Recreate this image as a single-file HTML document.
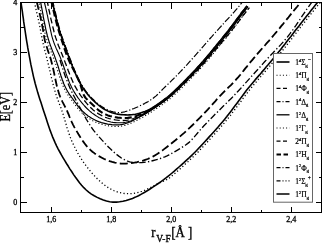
<!DOCTYPE html>
<html><head><meta charset="utf-8"><title>Potential energy curves</title>
<style>html,body{margin:0;padding:0;background:#fff}svg{display:block}</style></head>
<body>
<svg width="322" height="243" viewBox="0 0 322 243">
<defs><clipPath id="c"><rect x="20" y="2" width="302" height="211"/></clipPath></defs>
<rect width="322" height="243" fill="#fff"/>
<g clip-path="url(#c)" fill="none" stroke="#000" stroke-linejoin="round">
<path d="M21.0,2.0 L21.4,5.3 L21.9,8.6 L22.4,11.8 L22.8,15.1 L23.3,18.4 L23.7,21.7 L24.2,25.0 L24.7,28.2 L25.2,31.5 L25.7,34.8 L26.2,38.1 L26.7,41.3 L27.3,44.6 L27.8,47.9 L28.4,51.1 L29.0,54.4 L29.6,57.7 L30.2,60.9 L30.8,64.2 L31.5,67.4 L32.2,70.7 L32.9,73.9 L33.6,77.1 L34.4,80.3 L35.2,83.5 L36.1,86.7 L37.0,89.9 L37.9,93.1 L38.9,96.3 L39.9,99.4 L41.0,102.6 L42.0,105.7 L43.0,108.9 L44.0,112.0 L45.1,115.2 L46.1,118.3 L47.1,121.5 L48.1,124.6 L49.2,127.8 L50.3,130.9 L51.5,134.0 L52.7,137.1 L54.0,140.1 L55.3,143.1 L56.7,146.1 L58.2,149.1 L59.8,152.0 L61.4,154.9 L63.1,157.8 L64.8,160.6 L66.5,163.5 L68.3,166.3 L70.0,169.1 L71.8,171.8 L73.6,174.6 L75.5,177.3 L77.5,180.0 L79.5,182.7 L81.6,185.2 L83.8,187.7 L86.2,190.0 L88.7,192.2 L91.4,194.1 L94.2,195.8 L97.2,197.4 L100.2,198.8 L103.3,200.0 L106.5,201.0 L109.7,201.7 L113.0,202.1 L116.3,202.1 L119.6,201.7 L122.9,201.2 L126.2,200.5 L129.3,199.5 L132.5,198.4 L135.5,197.1 L138.5,195.7 L141.4,194.1 L144.3,192.5 L147.2,190.8 L150.0,189.0 L152.8,187.2 L155.5,185.4 L158.3,183.5 L161.0,181.6 L163.7,179.7 L166.3,177.7 L168.9,175.6 L171.5,173.5 L174.0,171.4 L176.5,169.2 L179.0,167.0 L181.4,164.8 L183.9,162.6 L186.3,160.3 L188.8,158.1 L191.2,155.8 L193.6,153.5 L195.9,151.2 L198.2,148.8 L200.5,146.4 L202.7,144.0 L205.0,141.5 L207.2,139.1 L209.4,136.6 L211.6,134.2 L213.9,131.7 L216.1,129.2 L218.3,126.7 L220.4,124.2 L222.6,121.7 L224.7,119.2 L226.8,116.6 L228.8,114.0 L230.8,111.4 L232.8,108.7 L234.8,106.1 L236.8,103.4 L238.8,100.7 L240.7,98.1 L242.7,95.4 L244.7,92.8 L246.7,90.1 L248.8,87.5 L250.9,85.0 L253.0,82.4 L255.1,79.9 L257.3,77.4 L259.5,74.9 L261.6,72.4 L263.8,69.9 L265.9,67.3 L268.1,64.8 L270.2,62.3 L272.3,59.7 L274.4,57.2 L276.5,54.6 L278.6,52.0 L280.7,49.4 L282.7,46.8 L284.8,44.2 L286.8,41.6 L288.8,39.0 L290.9,36.4 L292.9,33.8 L294.9,31.1 L296.9,28.5 L299.0,25.9 L301.0,23.3 L303.0,20.7 L305.1,18.1 L307.1,15.5 L309.2,12.9 L311.2,10.3 L313.3,7.7 L315.4,5.1 L317.5,2.5 L319.6,0.0" stroke-width="1.6"/>
<path d="M34.3,2.0 L35.0,4.8 L35.6,7.6 L36.3,10.4 L36.9,13.2 L37.6,16.0 L38.2,18.8 L38.8,21.6 L39.4,24.5 L40.0,27.3 L40.5,30.1 L41.0,32.9 L41.6,35.8 L42.1,38.6 L42.7,41.4 L43.3,44.2 L44.0,47.0 L44.7,49.8 L45.4,52.6 L46.1,55.4 L46.8,58.2 L47.5,61.0 L48.2,63.8 L48.9,66.6 L49.5,69.4 L50.2,72.2 L50.8,75.0 L51.5,77.8 L52.2,80.6 L52.9,83.4 L53.6,86.2 L54.4,89.0 L55.2,91.7 L56.0,94.5 L56.9,97.2 L57.9,99.9 L58.9,102.6 L59.9,105.3 L61.0,108.0 L61.9,110.7 L62.8,113.4 L63.7,116.1 L64.5,118.9 L65.3,121.7 L66.1,124.4 L66.9,127.2 L67.8,129.9 L68.7,132.7 L69.6,135.4 L70.6,138.1 L71.7,140.8 L72.9,143.4 L74.1,146.0 L75.4,148.6 L76.7,151.1 L78.1,153.7 L79.6,156.1 L81.1,158.6 L82.7,161.0 L84.3,163.4 L86.0,165.7 L87.8,168.0 L89.6,170.2 L91.4,172.4 L93.3,174.6 L95.3,176.7 L97.3,178.8 L99.4,180.7 L101.6,182.7 L103.8,184.5 L106.1,186.2 L108.5,187.8 L111.0,189.2 L113.6,190.5 L116.3,191.6 L119.0,192.5 L121.9,193.1 L124.7,193.5 L127.6,193.7 L130.5,193.7 L133.4,193.4 L136.2,192.9 L139.0,192.2 L141.8,191.3 L144.5,190.3 L147.1,189.2 L149.7,187.9 L152.3,186.6 L154.8,185.2 L157.3,183.8 L167.6,179.3 L170.2,177.3 L172.8,175.2 L175.4,173.0 L177.9,170.8 L180.4,168.6 L182.8,166.4 L185.3,164.1 L187.8,161.9 L190.2,159.6 L192.6,157.3 L195.0,155.0 L197.4,152.7 L199.7,150.3 L202.0,147.8 L204.3,145.4 L206.5,142.9 L208.8,140.5 L211.0,138.0 L213.2,135.6 L215.4,133.1 L217.6,130.6 L219.8,128.1 L222.0,125.6 L224.2,123.1 L226.3,120.5 L228.4,117.9 L230.5,115.3 L232.5,112.6 L234.5,110.0 L236.5,107.3 L238.5,104.7 L240.5,102.0 L242.4,99.3 L244.4,96.7 L246.4,94.0 L248.4,91.4 L250.4,88.9 L252.5,86.3 L254.6,83.8 L256.7,81.3 L258.9,78.8 L261.0,76.3 L263.2,73.7 L265.4,71.2 L267.5,68.7 L269.7,66.2 L271.8,63.6 L273.9,61.1 L276.0,58.5 L278.1,55.9 L280.2,53.3 L282.3,50.7 L284.4,48.1 L286.4,45.5 L288.5,42.9 L290.5,40.3 L292.5,37.7 L294.5,35.1 L296.6,32.4 L298.6,29.8 L300.6,27.2 L302.6,24.6 L304.7,22.0 L306.7,19.4 L308.8,16.7 L310.8,14.2 L312.9,11.6 L314.9,9.0 L317.0,6.4 L319.1,3.9 L321.2,1.3" stroke-width="1.3" stroke-dasharray="1.2 2.3"/>
<path d="M36.8,2.0 L37.5,4.7 L38.1,7.4 L38.8,10.1 L39.4,12.8 L40.1,15.6 L40.7,18.3 L41.3,21.0 L41.8,23.7 L42.4,26.5 L42.9,29.2 L43.3,32.0 L43.8,34.7 L44.3,37.5 L44.8,40.2 L45.5,42.9 L46.3,45.6 L47.2,48.2 L48.0,50.9 L48.9,53.5 L49.8,56.2 L50.7,58.8 L51.4,61.5 L52.1,64.2 L52.8,67.0 L53.4,69.7 L54.0,72.5 L54.5,75.2 L55.1,78.0 L55.7,80.7 L56.3,83.5 L56.9,86.2 L57.6,88.9 L58.4,91.5 L59.2,94.2 L60.2,96.8 L61.3,99.3 L62.5,101.8 L63.8,104.3 L65.1,106.8 L66.3,109.3 L67.5,111.8 L68.6,114.4 L69.6,117.0 L70.7,119.5 L71.8,122.1 L73.0,124.6 L74.3,127.1 L75.7,129.5 L77.1,131.9 L78.5,134.3 L80.0,136.7 L81.5,139.1 L83.1,141.4 L84.8,143.7 L86.5,145.9 L88.4,147.9 L90.3,149.9 L92.4,151.7 L94.7,153.4 L97.0,155.0 L99.4,156.4 L101.8,157.7 L104.3,159.0 L106.9,160.1 L109.5,161.1 L112.2,161.9 L114.9,162.6 L117.6,163.2 L120.4,163.5 L123.2,163.6 L126.0,163.6 L128.8,163.3 L131.5,163.0 L134.3,162.6 L137.0,162.1 L139.8,161.5 L142.5,160.8 L145.1,159.9 L147.7,159.0 L150.3,157.8 L152.8,156.6 L155.2,155.2 L157.6,153.8 L159.9,152.2 L162.2,150.6 L164.4,148.9 L166.6,147.2 L168.8,145.5 L171.0,143.8 L173.2,142.0 L175.4,140.3 L177.5,138.5 L179.7,136.7 L181.8,134.9 L183.9,133.1 L186.0,131.2 L188.0,129.3 L190.1,127.4 L192.1,125.5 L194.1,123.5 L196.0,121.6 L198.0,119.6 L200.0,117.6 L201.9,115.6 L203.9,113.6 L205.8,111.6 L207.7,109.6 L209.6,107.5 L211.5,105.4 L213.3,103.4 L215.2,101.3 L217.0,99.2 L218.9,97.1 L220.8,95.1 L222.7,93.1 L224.7,91.1 L226.7,89.2 L228.7,87.2 L230.7,85.3 L232.6,83.3 L234.6,81.3 L236.4,79.2 L238.3,77.1 L240.1,75.0 L241.8,72.8 L243.6,70.6 L245.3,68.4 L247.1,66.3 L248.8,64.1 L250.6,61.9 L252.4,59.8 L254.2,57.7 L256.0,55.5 L257.8,53.4 L259.6,51.3 L261.5,49.2 L263.3,47.1 L265.2,45.0 L267.0,42.9 L268.9,40.9 L270.7,38.8 L272.5,36.6 L274.3,34.5 L276.1,32.4 L277.9,30.2 L279.7,28.1 L281.4,25.9 L283.2,23.8 L285.0,21.6 L286.7,19.4 L288.5,17.3 L290.2,15.1 L292.0,12.9 L293.7,10.8 L295.5,8.6 L297.3,6.5 L299.0,4.3 L300.8,2.1 L302.6,0.0" stroke-width="1.8" stroke-dasharray="8 3.3"/>
<path d="M60.0,60.0 L60.7,62.3 L61.4,64.6 L62.2,66.9 L62.9,69.1 L63.7,71.4 L64.4,73.7 L65.2,75.9 L66.0,78.2 L66.9,80.4 L67.8,82.6 L68.7,84.9 L69.6,87.1 L70.6,89.2 L71.6,91.4 L72.6,93.6 L73.7,95.7 L74.8,97.8 L75.9,100.0 L77.0,102.1 L78.1,104.2 L79.2,106.3 L80.4,108.4 L81.5,110.5 L82.6,112.6 L83.8,114.7 L85.0,116.8 L86.1,118.9 L87.4,121.0 L88.6,123.0 L89.9,125.0 L91.2,127.0 L92.6,129.0 L94.0,130.9 L95.5,132.7 L97.1,134.6 L98.6,136.4 L100.2,138.1 L101.8,139.9 L103.5,141.7 L105.1,143.5 L106.7,145.2 L108.4,146.9 L110.1,148.6 L111.8,150.2 L113.6,151.9 L115.4,153.4 L117.2,154.9 L119.1,156.4 L121.1,157.8 L123.1,159.0 L125.3,160.2 L127.5,161.1 L129.7,161.8 L132.1,162.3 L134.5,162.6 L136.9,162.7 L139.3,162.7 L141.6,162.6 L144.0,162.3 L146.4,162.0 L148.8,161.6 L151.1,161.1 L153.4,160.5 L155.7,159.9 L158.0,159.3 L160.3,158.5 L162.6,157.7 L164.8,156.9 L167.0,155.9 L169.1,154.8 L171.2,153.7 L173.3,152.5 L175.4,151.3 L177.5,150.1 L179.5,148.9 L181.6,147.6 L183.6,146.3 L185.6,145.0 L187.5,143.6 L189.4,142.1 L191.1,140.4 L192.7,138.7 L194.3,136.9 L195.8,135.1 L197.4,133.2 L198.9,131.4 L200.5,129.6 L202.1,127.8 L203.7,126.0 L205.4,124.3 L207.0,122.6 L208.7,120.8 L210.3,119.1 L212.0,117.4 L213.7,115.7 L215.4,114.0 L217.1,112.4 L218.8,110.7 L220.5,109.0 L222.2,107.3 L223.9,105.6 L225.6,104.0 L227.3,102.3 L229.0,100.6 L230.7,98.9 L232.4,97.2 L234.0,95.5 L235.7,93.7 L237.3,92.0 L239.0,90.2 L240.6,88.5 L242.2,86.7 L243.8,84.9 L245.4,83.1 L247.0,81.4 L248.6,79.6 L250.2,77.8 L251.8,76.0 L253.4,74.3 L255.0,72.5 L256.6,70.7 L258.2,69.0 L259.8,67.2 L261.4,65.4 L263.0,63.6 L264.6,61.8 L266.2,60.1 L267.8,58.3 L269.4,56.5 L271.1,54.8 L272.7,53.1 L274.4,51.3 L276.0,49.6 L277.7,47.9 L279.4,46.1 L281.0,44.4 L282.6,42.6 L284.2,40.9 L285.7,39.0 L287.3,37.2 L288.7,35.3 L290.2,33.4 L291.6,31.5 L293.0,29.6 L294.4,27.6 L295.8,25.7 L297.1,23.7 L298.4,21.7 L299.8,19.7 L301.1,17.7 L302.4,15.7 L303.8,13.7 L305.1,11.7 L306.4,9.7 L307.8,7.8 L309.2,5.8 L310.6,3.9 L312.0,1.9 L313.4,0.0" stroke-width="1.35" stroke-dasharray="6.5 2.3 1.3 2.3"/>
<path d="M40.2,0.0 L40.6,2.1 L41.0,4.2 L41.4,6.3 L41.8,8.4 L42.2,10.5 L42.6,12.6 L43.0,14.6 L43.3,16.7 L43.7,18.8 L44.1,20.9 L44.5,23.0 L45.0,25.1 L45.4,27.2 L45.8,29.3 L46.3,31.4 L46.8,33.4 L47.3,35.5 L47.9,37.6 L48.5,39.6 L49.1,41.6 L49.8,43.6 L50.5,45.6 L51.3,47.6 L52.0,49.6 L52.8,51.6 L53.6,53.6 L54.4,55.6 L55.1,57.6 L55.8,59.6 L56.5,61.6 L57.2,63.6 L57.9,65.7 L58.5,67.7 L59.1,69.8 L59.7,71.9 L60.4,73.9 L61.0,76.0 L61.7,78.0 L62.4,80.0 L63.2,82.0 L63.9,84.0 L64.8,85.9 L65.7,87.8 L66.7,89.7 L67.7,91.5 L68.8,93.3 L70.0,95.1 L71.3,96.8 L72.5,98.5 L73.8,100.3 L75.0,102.0 L76.3,103.7 L77.5,105.5 L78.8,107.1 L80.2,108.8 L81.7,110.3 L83.2,111.8 L84.8,113.2 L86.4,114.6 L88.1,115.9 L89.9,117.1 L91.7,118.2 L93.6,119.3 L95.5,120.2 L97.4,121.1 L99.4,121.9 L101.4,122.6 L103.5,123.1 L105.6,123.6 L107.7,124.1 L109.8,124.4 L111.9,124.7 L114.0,124.8 L116.1,124.9 L118.3,124.8 L120.4,124.6 L122.5,124.3 L124.6,123.8 L126.6,123.2 L128.6,122.5 L130.6,121.7 L132.5,120.7 L134.4,119.8 L136.3,118.8 L138.2,117.7 L140.0,116.7 L141.9,115.7 L143.8,114.7 L145.7,113.7 L147.5,112.6 L149.3,111.5 L151.1,110.3 L152.8,109.1 L154.6,107.9 L156.4,106.7 L158.1,105.5 L159.9,104.3 L161.6,103.1 L163.4,101.8 L165.1,100.6 L166.8,99.3 L168.4,98.0 L170.1,96.6 L171.7,95.2 L173.3,93.8 L174.8,92.3 L176.4,90.9 L177.9,89.4 L179.4,87.9 L180.9,86.4 L182.5,84.9 L184.0,83.4 L185.5,81.9 L187.0,80.4 L188.5,78.9 L189.9,77.3 L191.4,75.8 L192.9,74.3 L194.4,72.7 L195.8,71.2 L197.3,69.6 L198.7,68.0 L200.1,66.4 L201.5,64.9 L203.0,63.3 L204.4,61.7 L205.7,60.0 L207.1,58.4 L208.5,56.8 L209.9,55.2 L211.2,53.5 L212.6,51.9 L213.9,50.2 L215.3,48.6 L216.7,47.0 L218.0,45.3 L219.4,43.7 L220.7,42.0 L222.1,40.4 L223.4,38.7 L224.7,37.1 L226.1,35.4 L227.4,33.7 L228.7,32.0 L230.0,30.4 L231.3,28.7 L232.6,27.0 L233.9,25.3 L235.2,23.6 L236.4,21.9 L237.7,20.2 L239.0,18.4 L240.2,16.7 L241.5,15.0 L242.8,13.3 L244.1,11.6 L245.4,9.9 L246.7,8.3 L248.0,6.6" stroke-width="1.2"/>
<path d="M38.6,0.3 L39.0,2.4 L39.5,4.5 L39.9,6.6 L40.2,8.7 L40.6,10.7 L41.0,12.8 L41.4,14.9 L41.8,17.0 L42.2,19.1 L42.6,21.2 L43.0,23.3 L43.4,25.4 L43.8,27.5 L44.3,29.6 L44.7,31.7 L45.2,33.8 L45.8,35.9 L46.3,38.0 L46.9,40.1 L47.6,42.1 L48.3,44.2 L49.0,46.2 L49.8,48.2 L50.6,50.2 L51.3,52.2 L52.1,54.1 L52.9,56.1 L53.6,58.1 L54.3,60.1 L55.0,62.1 L55.7,64.1 L56.3,66.2 L57.0,68.2 L57.6,70.3 L58.2,72.3 L58.9,74.4 L59.5,76.5 L60.2,78.5 L60.9,80.6 L61.7,82.6 L62.5,84.6 L63.3,86.6 L64.3,88.5 L65.3,90.5 L66.3,92.4 L67.5,94.2 L68.7,96.0 L70.0,97.7 L71.2,99.5 L72.5,101.2 L73.7,102.9 L75.0,104.7 L76.3,106.4 L77.6,108.1 L79.0,109.8 L80.5,111.4 L82.1,113.0 L83.7,114.5 L85.4,115.9 L87.2,117.2 L89.0,118.4 L90.9,119.6 L92.8,120.7 L94.8,121.7 L96.8,122.6 L98.9,123.4 L101.0,124.1 L103.1,124.7 L105.2,125.2 L107.4,125.6 L109.5,126.0 L111.7,126.3 L113.9,126.4 L116.1,126.5 L118.4,126.4 L120.6,126.2 L122.8,125.9 L125.0,125.4 L127.1,124.7 L129.2,124.0 L131.3,123.1 L133.2,122.2 L135.2,121.2 L137.1,120.2 L138.9,119.2 L140.8,118.2 L142.7,117.2 L144.6,116.1 L146.5,115.1 L148.3,114.0 L150.2,112.8 L152.0,111.6 L153.7,110.4 L155.5,109.2 L157.3,108.0 L159.0,106.8 L160.8,105.6 L162.5,104.4 L164.3,103.1 L166.0,101.9 L167.7,100.5 L169.4,99.2 L171.1,97.8 L172.7,96.4 L174.3,95.0 L175.9,93.5 L177.5,92.0 L179.0,90.5 L180.5,89.0 L182.1,87.5 L183.6,86.0 L185.1,84.5 L186.6,83.0 L188.1,81.5 L189.6,80.0 L191.1,78.4 L192.6,76.9 L194.0,75.4 L195.5,73.8 L197.0,72.2 L198.4,70.7 L199.9,69.1 L201.3,67.5 L202.7,65.9 L204.2,64.3 L205.6,62.7 L207.0,61.1 L208.3,59.5 L209.7,57.8 L211.1,56.2 L212.5,54.5 L213.8,52.9 L215.2,51.3 L216.5,49.6 L217.9,48.0 L219.2,46.3 L220.6,44.7 L221.9,43.0 L223.3,41.4 L224.6,39.7 L226.0,38.1 L227.3,36.4 L228.6,34.7 L229.9,33.0 L231.3,31.3 L232.6,29.7 L233.9,28.0 L235.2,26.3 L236.4,24.5 L237.7,22.8 L239.0,21.1 L240.2,19.4 L241.5,17.7 L242.8,16.0 L244.0,14.3 L245.3,12.6 L246.6,10.9 L247.9,9.3 L249.3,7.6" stroke-width="1.1" stroke-dasharray="1.1 2.2"/>
<path d="M43.8,0.0 L44.3,2.0 L44.8,4.0 L45.3,6.1 L45.8,8.1 L46.2,10.1 L46.7,12.2 L47.1,14.2 L47.6,16.2 L48.0,18.3 L48.4,20.3 L48.9,22.4 L49.3,24.4 L49.7,26.4 L50.2,28.5 L50.6,30.5 L51.1,32.6 L51.5,34.6 L52.0,36.6 L52.6,38.6 L53.2,40.6 L53.9,42.6 L54.6,44.5 L55.4,46.4 L56.2,48.4 L57.1,50.3 L58.0,52.2 L58.8,54.1 L59.7,56.0 L60.5,57.9 L61.2,59.9 L62.0,61.8 L62.7,63.8 L63.4,65.7 L64.1,67.7 L64.8,69.7 L65.5,71.7 L66.1,73.7 L66.8,75.6 L67.5,77.6 L68.3,79.5 L69.0,81.5 L69.8,83.4 L70.7,85.3 L71.6,87.2 L72.5,89.0 L73.5,90.8 L74.6,92.6 L75.7,94.4 L76.9,96.1 L78.0,97.9 L79.3,99.5 L80.5,101.2 L81.9,102.8 L83.2,104.4 L84.6,106.0 L86.0,107.5 L87.5,109.0 L89.0,110.4 L90.6,111.8 L92.2,113.1 L93.9,114.3 L95.6,115.5 L97.4,116.6 L99.2,117.7 L101.1,118.6 L103.0,119.5 L104.9,120.3 L106.9,121.0 L108.9,121.5 L110.9,122.0 L113.0,122.4 L115.1,122.6 L117.1,122.8 L119.2,122.8 L121.3,122.7 L123.4,122.6 L125.5,122.3 L127.6,121.9 L129.6,121.3 L131.5,120.7 L133.5,119.8 L135.3,119.0 L137.2,118.0 L139.1,117.0 L140.9,116.1 L142.7,115.1 L144.6,114.1 L146.3,113.0 L148.1,111.9 L149.9,110.8 L151.6,109.6 L153.3,108.4 L155.0,107.2 L156.8,106.1 L158.5,104.9 L160.2,103.7 L161.9,102.5 L163.6,101.3 L165.3,100.0 L166.9,98.8 L168.5,97.5 L170.1,96.1 L171.7,94.8 L173.3,93.4 L174.8,91.9 L176.3,90.5 L177.8,89.1 L179.3,87.6 L180.8,86.1 L182.3,84.7 L183.7,83.2 L185.2,81.7 L186.7,80.2 L188.1,78.7 L189.6,77.3 L191.0,75.8 L192.5,74.2 L193.9,72.7 L195.3,71.2 L196.8,69.7 L198.2,68.2 L199.6,66.6 L201.0,65.1 L202.3,63.5 L203.7,61.9 L205.1,60.4 L206.4,58.8 L207.8,57.2 L209.1,55.6 L210.5,54.0 L211.8,52.4 L213.1,50.8 L214.4,49.2 L215.8,47.5 L217.1,45.9 L218.4,44.3 L219.7,42.7 L221.1,41.1 L222.4,39.5 L223.7,37.9 L225.0,36.2 L226.3,34.6 L227.6,33.0 L228.9,31.3 L230.1,29.7 L231.4,28.0 L232.7,26.4 L233.9,24.7 L235.2,23.0 L236.4,21.4 L237.7,19.7 L238.9,18.0 L240.1,16.3 L241.4,14.6 L242.6,13.0 L243.9,11.3 L245.2,9.7 L246.5,8.1 L247.8,6.4" stroke-width="1.1"/>
<path d="M47.0,0.0 L47.4,2.0 L47.8,4.0 L48.2,6.0 L48.6,8.0 L49.0,10.0 L49.5,12.1 L49.9,14.1 L50.3,16.1 L50.7,18.1 L51.2,20.1 L51.7,22.1 L52.1,24.1 L52.6,26.1 L53.1,28.0 L53.6,30.0 L54.1,32.0 L54.7,34.0 L55.2,36.0 L55.8,37.9 L56.5,39.9 L57.1,41.8 L57.8,43.7 L58.5,45.7 L59.3,47.6 L60.1,49.5 L60.8,51.4 L61.6,53.3 L62.4,55.2 L63.1,57.1 L63.9,59.0 L64.6,60.9 L65.3,62.8 L66.1,64.8 L66.8,66.7 L67.5,68.6 L68.2,70.5 L69.0,72.5 L69.7,74.4 L70.5,76.3 L71.3,78.2 L72.1,80.1 L72.9,81.9 L73.8,83.8 L74.7,85.6 L75.7,87.4 L76.7,89.2 L77.7,90.9 L78.8,92.7 L79.9,94.4 L81.1,96.1 L82.3,97.7 L83.5,99.4 L84.8,101.0 L86.1,102.6 L87.4,104.2 L88.8,105.7 L90.2,107.2 L91.7,108.6 L93.2,110.0 L94.8,111.2 L96.5,112.4 L98.2,113.6 L100.0,114.6 L101.8,115.6 L103.6,116.5 L105.5,117.3 L107.4,118.0 L109.4,118.6 L111.4,119.1 L113.4,119.5 L115.4,119.9 L117.5,120.2 L119.5,120.4 L121.5,120.5 L123.6,120.5 L125.7,120.3 L127.7,120.1 L129.7,119.7 L131.7,119.1 L133.6,118.5 L135.5,117.7 L137.4,116.9 L139.3,116.0 L141.1,115.1 L143.0,114.2 L144.8,113.3 L146.6,112.3 L148.4,111.3 L150.1,110.2 L151.9,109.2 L153.6,108.1 L155.4,107.0 L157.1,105.9 L158.8,104.8 L160.5,103.6 L162.2,102.5 L163.9,101.3 L165.5,100.1 L167.2,98.8 L168.8,97.6 L170.4,96.3 L171.9,95.0 L173.5,93.6 L175.0,92.3 L176.5,90.9 L178.0,89.5 L179.5,88.1 L181.0,86.6 L182.5,85.2 L183.9,83.8 L185.4,82.4 L186.9,80.9 L188.3,79.5 L189.8,78.0 L191.2,76.6 L192.7,75.1 L194.1,73.7 L195.5,72.2 L197.0,70.7 L198.4,69.2 L199.8,67.7 L201.2,66.2 L202.6,64.7 L203.9,63.2 L205.3,61.7 L206.7,60.1 L208.0,58.6 L209.3,57.1 L210.7,55.5 L212.0,53.9 L213.4,52.4 L214.7,50.8 L216.0,49.3 L217.3,47.7 L218.7,46.1 L220.0,44.6 L221.3,43.0 L222.6,41.4 L224.0,39.9 L225.3,38.3 L226.6,36.7 L227.9,35.1 L229.2,33.5 L230.4,31.9 L231.7,30.3 L233.0,28.7 L234.3,27.1 L235.5,25.5 L236.8,23.9 L238.0,22.3 L239.3,20.6 L240.5,19.0 L241.7,17.3 L243.0,15.7 L244.3,14.1 L245.5,12.5 L246.8,10.9 L248.1,9.3 L249.4,7.7" stroke-width="1.3" stroke-dasharray="6 3"/>
<path d="M51.0,0.0 L51.5,2.0 L52.0,3.9 L52.4,5.9 L52.9,7.8 L53.4,9.8 L53.8,11.7 L54.3,13.7 L54.7,15.7 L55.2,17.6 L55.7,19.6 L56.2,21.5 L56.7,23.5 L57.2,25.4 L57.7,27.3 L58.3,29.3 L58.9,31.2 L59.5,33.1 L60.1,35.0 L60.7,36.9 L61.3,38.8 L61.9,40.8 L62.6,42.7 L63.2,44.6 L63.8,46.5 L64.4,48.4 L65.1,50.3 L65.7,52.2 L66.4,54.1 L67.1,56.0 L67.9,57.9 L68.7,59.7 L69.5,61.5 L70.3,63.3 L71.2,65.2 L72.1,66.9 L73.0,68.7 L74.0,70.5 L74.9,72.3 L75.8,74.1 L76.7,75.9 L77.6,77.7 L78.4,79.6 L79.2,81.4 L79.9,83.3 L80.6,85.2 L81.2,87.1 L81.8,89.1 L82.3,91.0 L82.9,93.0 L83.7,94.8 L84.6,96.5 L85.8,98.1 L87.2,99.6 L88.6,101.0 L90.2,102.4 L91.7,103.8 L93.2,105.2 L94.6,106.6 L96.1,108.0 L97.5,109.3 L99.1,110.6 L100.7,111.7 L102.4,112.8 L104.2,113.8 L106.0,114.6 L107.9,115.4 L109.8,116.0 L111.8,116.5 L113.7,117.0 L115.7,117.3 L117.7,117.6 L119.7,117.8 L121.7,118.0 L123.7,118.0 L125.7,118.0 L127.7,117.9 L129.7,117.6 L131.7,117.3 L133.7,116.8 L135.6,116.2 L137.5,115.5 L139.4,114.8 L141.2,114.0 L143.1,113.2 L144.9,112.3 L146.7,111.5 L148.5,110.5 L150.2,109.5 L152.0,108.5 L153.7,107.5 L155.4,106.4 L157.1,105.3 L158.7,104.2 L160.4,103.0 L162.0,101.9 L163.6,100.7 L165.2,99.4 L166.8,98.2 L168.4,96.9 L169.9,95.7 L171.4,94.3 L172.9,93.0 L174.4,91.6 L175.9,90.2 L177.3,88.8 L178.7,87.4 L180.2,86.0 L181.6,84.6 L183.0,83.2 L184.5,81.8 L185.9,80.3 L187.3,78.9 L188.7,77.5 L190.1,76.0 L191.5,74.6 L192.9,73.1 L194.2,71.7 L195.6,70.2 L197.0,68.7 L198.3,67.2 L199.7,65.7 L201.0,64.2 L202.4,62.7 L203.7,61.2 L205.0,59.7 L206.3,58.2 L207.6,56.6 L208.9,55.1 L210.2,53.5 L211.4,52.0 L212.7,50.4 L214.0,48.9 L215.3,47.3 L216.6,45.8 L217.8,44.2 L219.1,42.7 L220.4,41.1 L221.7,39.6 L222.9,38.0 L224.2,36.4 L225.4,34.9 L226.7,33.3 L227.9,31.7 L229.2,30.1 L230.4,28.5 L231.6,26.9 L232.8,25.3 L234.1,23.7 L235.3,22.1 L236.4,20.5 L237.6,18.9 L238.8,17.3 L240.0,15.6 L241.2,14.0 L242.4,12.4 L243.7,10.8 L244.9,9.3 L246.1,7.7 L247.4,6.1" stroke-width="2.1" stroke-dasharray="7 3"/>
<path d="M51.8,0.0 L52.3,1.9 L52.7,3.8 L53.2,5.8 L53.7,7.7 L54.1,9.6 L54.6,11.5 L55.0,13.5 L55.5,15.4 L55.9,17.3 L56.4,19.2 L56.9,21.1 L57.4,23.0 L57.9,25.0 L58.4,26.9 L58.9,28.8 L59.5,30.6 L60.1,32.5 L60.7,34.4 L61.3,36.3 L62.0,38.2 L62.6,40.0 L63.3,41.9 L63.9,43.7 L64.6,45.6 L65.3,47.4 L66.0,49.3 L66.7,51.1 L67.3,53.0 L68.0,54.8 L68.7,56.7 L69.4,58.5 L70.2,60.4 L70.9,62.3 L71.6,64.1 L72.3,66.0 L73.0,67.8 L73.8,69.7 L74.5,71.5 L75.3,73.3 L76.1,75.1 L76.9,76.9 L77.8,78.7 L78.7,80.5 L79.6,82.2 L80.6,84.0 L81.6,85.7 L82.6,87.3 L83.7,89.0 L84.8,90.6 L86.0,92.2 L87.2,93.7 L88.4,95.3 L89.7,96.8 L91.1,98.2 L92.4,99.7 L93.8,101.0 L95.3,102.4 L96.8,103.7 L98.3,105.0 L99.8,106.2 L101.4,107.4 L103.1,108.5 L104.8,109.5 L106.5,110.4 L108.3,111.3 L110.1,112.0 L112.0,112.7 L113.9,113.2 L115.8,113.7 L117.7,114.1 L119.7,114.4 L121.7,114.6 L123.6,114.8 L125.6,114.9 L127.6,115.0 L129.6,114.9 L131.5,114.8 L133.5,114.5 L135.4,114.2 L137.4,113.8 L139.3,113.3 L141.2,112.7 L143.1,112.1 L144.9,111.5 L146.8,110.7 L148.6,109.9 L150.3,109.0 L152.0,108.0 L153.7,106.9 L155.3,105.8 L157.0,104.7 L158.6,103.6 L160.2,102.5 L161.8,101.3 L163.4,100.2 L165.0,99.0 L166.6,97.8 L168.1,96.5 L169.6,95.3 L171.1,94.0 L172.6,92.7 L174.0,91.3 L175.5,89.9 L176.9,88.6 L178.3,87.2 L179.7,85.8 L181.1,84.4 L182.5,83.0 L183.9,81.6 L185.3,80.2 L186.7,78.8 L188.0,77.4 L189.4,76.0 L190.8,74.6 L192.2,73.1 L193.5,71.7 L194.9,70.3 L196.2,68.8 L197.5,67.4 L198.9,65.9 L200.2,64.4 L201.5,62.9 L202.8,61.5 L204.1,60.0 L205.4,58.5 L206.7,57.0 L207.9,55.4 L209.2,53.9 L210.5,52.4 L211.7,50.9 L213.0,49.4 L214.2,47.8 L215.5,46.3 L216.7,44.8 L218.0,43.3 L219.2,41.7 L220.5,40.2 L221.7,38.7 L223.0,37.1 L224.2,35.6 L225.4,34.1 L226.7,32.5 L227.9,31.0 L229.1,29.4 L230.3,27.8 L231.5,26.3 L232.7,24.7 L233.9,23.1 L235.1,21.5 L236.2,19.9 L237.4,18.3 L238.6,16.8 L239.8,15.2 L240.9,13.6 L242.1,12.0 L243.3,10.4 L244.6,8.9 L245.8,7.3 L247.0,5.8" stroke-width="1.6"/>
<path d="M52.4,0.0 L52.9,1.9 L53.3,3.8 L53.8,5.7 L54.2,7.6 L54.7,9.5 L55.1,11.4 L55.6,13.2 L56.0,15.1 L56.5,17.0 L56.9,18.9 L57.4,20.8 L57.9,22.7 L58.4,24.6 L58.9,26.5 L59.4,28.3 L60.0,30.2 L60.5,32.1 L61.1,33.9 L61.7,35.8 L62.4,37.6 L63.0,39.4 L63.6,41.3 L64.3,43.1 L65.0,44.9 L65.6,46.7 L66.3,48.6 L67.0,50.4 L67.7,52.2 L68.3,54.0 L69.0,55.9 L69.7,57.7 L70.4,59.5 L71.1,61.3 L71.8,63.2 L72.5,65.0 L73.2,66.8 L74.0,68.6 L74.7,70.4 L75.5,72.2 L76.2,74.0 L77.1,75.8 L77.9,77.6 L78.7,79.3 L79.6,81.1 L80.5,82.8 L81.5,84.5 L82.5,86.1 L83.5,87.8 L84.6,89.4 L85.8,91.0 L86.9,92.5 L88.2,94.0 L89.4,95.5 L90.7,97.0 L92.1,98.4 L93.5,99.7 L94.9,101.1 L96.3,102.4 L97.8,103.6 L99.4,104.8 L100.9,106.0 L102.5,107.1 L104.2,108.1 L105.9,109.0 L107.6,109.9 L109.4,110.7 L111.3,111.3 L113.1,111.8 L115.1,112.2 L117.0,112.5 L119.0,112.6 L120.9,112.5 L122.8,112.2 L124.7,111.8 L126.6,111.2 L128.4,110.6 L130.3,109.9 L132.1,109.2 L133.9,108.5 L135.7,107.7 L137.5,107.0 L139.2,106.2 L141.0,105.3 L142.7,104.5 L144.5,103.6 L146.2,102.6 L147.9,101.7 L149.5,100.6 L151.2,99.6 L152.8,98.5 L154.3,97.3 L155.8,96.1 L157.3,94.8 L158.7,93.4 L160.0,92.0 L161.4,90.6 L162.8,89.2 L164.1,87.9 L165.5,86.5 L166.9,85.2 L168.4,83.8 L169.7,82.5 L171.1,81.1 L172.5,79.7 L173.9,78.4 L175.3,77.0 L176.6,75.6 L178.0,74.2 L179.3,72.8 L180.7,71.4 L182.0,70.0 L183.3,68.6 L184.7,67.1 L186.0,65.7 L187.3,64.3 L188.6,62.8 L189.9,61.4 L191.2,60.0 L192.5,58.5 L193.8,57.1 L195.1,55.6 L196.4,54.2 L197.7,52.7 L199.0,51.2 L200.3,49.8 L201.5,48.3 L202.8,46.8 L204.1,45.4 L205.4,43.9 L206.6,42.4 L207.9,41.0 L209.2,39.5 L210.5,38.0 L211.8,36.6 L213.1,35.1 L214.4,33.7 L215.7,32.2 L217.0,30.8 L218.3,29.3 L219.6,27.9 L220.9,26.5 L222.2,25.0 L223.5,23.6 L224.8,22.1 L226.1,20.7 L227.4,19.3 L228.8,17.8 L230.1,16.4 L231.4,15.0 L232.7,13.5 L234.0,12.1 L235.3,10.6 L236.6,9.2 L237.8,7.7 L239.1,6.2 L240.3,4.6 L241.5,3.1 L242.6,1.6 L243.8,-0.0" stroke-width="1.2" stroke-dasharray="6.5 2 1.2 2"/>
</g>
<g stroke="#000" stroke-width="1" fill="none" shape-rendering="crispEdges">
<rect x="20.5" y="2.5" width="301.0" height="210.0"/>
<path d="M51.5,212.5 v-6 M51.5,2.5 v6"/>
<path d="M81.5,212.5 v-3 M81.5,2.5 v3"/>
<path d="M111.5,212.5 v-6 M111.5,2.5 v6"/>
<path d="M141.5,212.5 v-3 M141.5,2.5 v3"/>
<path d="M171.5,212.5 v-6 M171.5,2.5 v6"/>
<path d="M201.5,212.5 v-3 M201.5,2.5 v3"/>
<path d="M231.5,212.5 v-6 M231.5,2.5 v6"/>
<path d="M261.5,212.5 v-3 M261.5,2.5 v3"/>
<path d="M291.5,212.5 v-6 M291.5,2.5 v6"/>
<path d="M20.5,202.5 h6 M321.5,202.5 h-6"/>
<path d="M20.5,177.5 h3 M321.5,177.5 h-3"/>
<path d="M20.5,152.5 h6 M321.5,152.5 h-6"/>
<path d="M20.5,127.5 h3 M321.5,127.5 h-3"/>
<path d="M20.5,102.5 h6 M321.5,102.5 h-6"/>
<path d="M20.5,77.5 h3 M321.5,77.5 h-3"/>
<path d="M20.5,52.5 h6 M321.5,52.5 h-6"/>
<path d="M20.5,27.5 h3 M321.5,27.5 h-3"/>
</g>
<g font-family="'Liberation Serif', serif" font-size="8" fill="#000" stroke="#000" stroke-width="0.3">
<text x="51.3" y="221.7" text-anchor="middle">1,6</text>
<text x="111.3" y="221.7" text-anchor="middle">1,8</text>
<text x="171.3" y="221.7" text-anchor="middle">2,0</text>
<text x="231.3" y="221.7" text-anchor="middle">2,2</text>
<text x="291.3" y="221.7" text-anchor="middle">2,4</text>
<text x="17.3" y="205.1" text-anchor="end">0</text>
<text x="17.3" y="155.1" text-anchor="end">1</text>
<text x="17.3" y="105.1" text-anchor="end">2</text>
<text x="17.3" y="55.1" text-anchor="end">3</text>
<text x="17.3" y="5.1" text-anchor="end">4</text>
</g>
<g font-family="'Liberation Serif', serif" fill="#000" stroke="#000" stroke-width="0.35">
<text transform="translate(151.2,237.2) scale(0.9,1)" font-size="14">r</text>
<text transform="translate(156.3,241.7) scale(0.9,1)" font-size="10.5">V-F</text>
<text transform="translate(171.2,237.2) scale(0.92,1)" font-size="14">[Å ]</text>
<text transform="translate(10.2,121.5) rotate(-90) scale(0.86,1)" font-size="14">E[eV]</text>
</g>
<rect x="273.5" y="53.5" width="39.0" height="148.7" fill="#fff" stroke="#666" stroke-width="1"/>
<g font-family="'Liberation Serif', serif" fill="#000" font-size="7.5" stroke="#000" stroke-width="0.2">
<path d="M276.5,62.0 H289.5" stroke="#000" stroke-width="1.6" fill="none"/>
<text x="295.3" y="65.0" letter-spacing="-0.2">1<tspan font-size="5" dy="-3.2">4</tspan><tspan dy="3.2">Σ</tspan><tspan font-size="5" dy="1.8">g</tspan><tspan font-size="5.5" dy="-5.5">−</tspan></text>
<path d="M276.5,75.2 H289.5" stroke="#000" stroke-width="1.1" fill="none" stroke-dasharray="1 2.2"/>
<text x="295.3" y="78.2" letter-spacing="-0.2">1<tspan font-size="5" dy="-3.2">4</tspan><tspan dy="3.2">Π</tspan><tspan font-size="5" dy="1.8">g</tspan></text>
<path d="M276.5,88.4 H289.5" stroke="#000" stroke-width="1.4" fill="none" stroke-dasharray="4 2.5"/>
<text x="295.3" y="91.4" letter-spacing="-0.2">1<tspan font-size="5" dy="-3.2">4</tspan><tspan dy="3.2">Φ</tspan><tspan font-size="5" dy="1.8">g</tspan></text>
<path d="M276.5,101.6 H289.5" stroke="#000" stroke-width="1.1" fill="none" stroke-dasharray="4 2 1 2"/>
<text x="295.3" y="104.6" letter-spacing="-0.2">1<tspan font-size="5" dy="-3.2">4</tspan><tspan dy="3.2">Δ</tspan><tspan font-size="5" dy="1.8">g</tspan></text>
<path d="M276.5,114.8 H289.5" stroke="#000" stroke-width="1.3" fill="none"/>
<text x="295.3" y="117.8" letter-spacing="-0.2">1<tspan font-size="5" dy="-3.2">2</tspan><tspan dy="3.2">Δ</tspan><tspan font-size="5" dy="1.8">g</tspan></text>
<path d="M276.5,128.0 H289.5" stroke="#000" stroke-width="1.1" fill="none" stroke-dasharray="1 2.2"/>
<text x="295.3" y="131.0" letter-spacing="-0.2">1<tspan font-size="5" dy="-3.2">2</tspan><tspan dy="3.2">Γ</tspan><tspan font-size="5" dy="1.8">g</tspan></text>
<path d="M276.5,141.2 H289.5" stroke="#000" stroke-width="1.3" fill="none" stroke-dasharray="4 2.5"/>
<text x="295.3" y="144.2" letter-spacing="-0.2">2<tspan font-size="5" dy="-3.2">4</tspan><tspan dy="3.2">Π</tspan><tspan font-size="5" dy="1.8">g</tspan></text>
<path d="M276.5,154.4 H289.5" stroke="#000" stroke-width="2" fill="none" stroke-dasharray="4.5 2.5"/>
<text x="295.3" y="157.4" letter-spacing="-0.2">1<tspan font-size="5" dy="-3.2">2</tspan><tspan dy="3.2">H</tspan><tspan font-size="5" dy="1.8">g</tspan></text>
<path d="M276.5,167.6 H289.5" stroke="#000" stroke-width="1.1" fill="none" stroke-dasharray="4 2 1 2"/>
<text x="295.3" y="170.6" letter-spacing="-0.2">1<tspan font-size="5" dy="-3.2">2</tspan><tspan dy="3.2">Φ</tspan><tspan font-size="5" dy="1.8">g</tspan></text>
<path d="M276.5,180.8 H289.5" stroke="#000" stroke-width="1.3" fill="none" stroke-dasharray="4 2 1 2 1 2"/>
<text x="295.3" y="183.8" letter-spacing="-0.2">1<tspan font-size="5" dy="-3.2">2</tspan><tspan dy="3.2">Σ</tspan><tspan font-size="5" dy="1.8">g</tspan><tspan font-size="5.5" dy="-5.5">+</tspan></text>
<path d="M276.5,194.0 H289.5" stroke="#000" stroke-width="1.5" fill="none"/>
<text x="295.3" y="197.0" letter-spacing="-0.2">1<tspan font-size="5" dy="-3.2">2</tspan><tspan dy="3.2">Π</tspan><tspan font-size="5" dy="1.8">g</tspan></text>
</g>
</svg>
</body></html>
